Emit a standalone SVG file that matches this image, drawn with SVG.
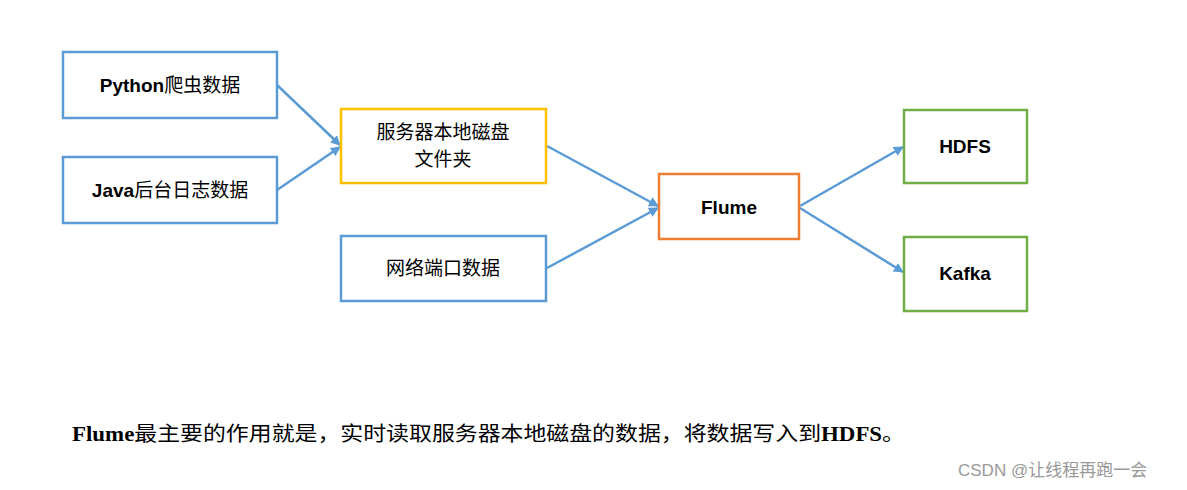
<svg xmlns="http://www.w3.org/2000/svg" width="1187" height="490" viewBox="0 0 1187 490">
<defs>
<style>
.b{fill:#fff;stroke-width:2.5}
.t{font-family:"Liberation Sans","Noto Sans CJK SC",sans-serif;font-size:19px;fill:#000;text-anchor:middle}
.c{stroke:#5B9BD5;stroke-width:2.5;fill:none;marker-end:url(#a)}
</style>
<marker id="a" viewBox="0 0 10 10" refX="9" refY="5" markerWidth="4" markerHeight="4" orient="auto"><path d="M0,0L10,5L0,10z" fill="#5B9BD5"/></marker>
</defs>
<rect width="1187" height="490" fill="#fff"/>
<g id="connectors">
<line class="c" x1="277" y1="85" x2="340" y2="145"/>
<line class="c" x1="277" y1="190" x2="340" y2="147"/>
<line class="c" x1="547" y1="146" x2="658" y2="206"/>
<line class="c" x1="547" y1="268" x2="658" y2="208"/>
<line class="c" x1="800" y1="206" x2="903" y2="147"/>
<line class="c" x1="800" y1="208" x2="903" y2="272"/>
</g>
<g id="python"><rect class="b" x="63" y="52" width="214" height="66" stroke="#5B9BD5"/><text class="t" x="170" y="92"><tspan font-weight="bold">Python</tspan>爬虫数据</text></g>
<g id="java"><rect class="b" x="63" y="157" width="214" height="66" stroke="#5B9BD5"/><text class="t" x="170" y="197"><tspan font-weight="bold">Java</tspan>后台日志数据</text></g>
<g id="disk"><rect class="b" x="341" y="109" width="205" height="74" stroke="#FFC000"/><text class="t" x="443" y="139">服务器本地磁盘</text><text class="t" x="443" y="166">文件夹</text></g>
<g id="net"><rect class="b" x="341" y="236" width="205" height="65" stroke="#5B9BD5"/><text class="t" x="443" y="275">网络端口数据</text></g>
<g id="flume"><rect class="b" x="659" y="174" width="140" height="65" stroke="#ED7D31"/><text class="t" x="729" y="214" font-weight="bold">Flume</text></g>
<g id="hdfs"><rect class="b" x="904" y="110" width="123" height="73" stroke="#70AD47"/><text class="t" x="965" y="153" font-weight="bold">HDFS</text></g>
<g id="kafka"><rect class="b" x="904" y="237" width="123" height="74" stroke="#70AD47"/><text class="t" x="965" y="280" font-weight="bold">Kafka</text></g>
<text x="72" y="441" font-family="'Liberation Serif','Noto Sans CJK SC',serif" font-size="20" textLength="833" lengthAdjust="spacingAndGlyphs"><tspan font-weight="bold">Flume</tspan>最主要的作用就是，实时读取服务器本地磁盘的数据，将数据写入到<tspan font-weight="bold">HDFS</tspan>。</text>
<text x="958" y="476" font-family="'Liberation Sans','Noto Sans CJK SC',sans-serif" font-size="17" fill="#999">CSDN @让线程再跑一会</text>
</svg>
